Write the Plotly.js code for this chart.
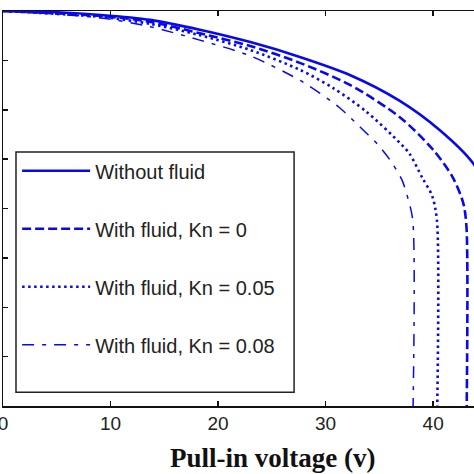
<!DOCTYPE html>
<html>
<head>
<meta charset="utf-8">
<script src="https://cdn.plot.ly/plotly-3.0.1.min.js"></script>
<style>
  html, body { margin: 0; padding: 0; background: #fff; }
  #chart { width: 474px; height: 474px; }
</style>
</head>
<body>
<div id="chart"></div>
<script>
    // pull-in voltage (v) vs. deflection
    var vNoFluid = [0, 4.4, 9.1, 13.7, 18.3, 23.0, 27.6, 32.3, 36.9, 40.6, 43.7, 45.2, 46.1, 46.4, 46.4];
    var dNoFluid = [0, -0.02, -0.08, -0.18, -0.38, -0.63, -0.93, -1.30, -1.82, -2.41, -3.08, -3.7, -4.3, -4.7, -8.5];

    var vKn0 = [0, 9.1, 13.7, 18.3, 23.0, 27.6, 32.3, 36.9, 40.0, 41.8, 42.8, 43.1, 43.1];
    var dKn0 = [0, -0.10, -0.22, -0.45, -0.71, -1.05, -1.50, -2.15, -2.81, -3.36, -3.89, -4.37, -8.5];

    var vKn005 = [0, 9.1, 13.7, 18.3, 23.0, 27.6, 30.7, 33.8, 36.9, 37.8, 39.0, 39.9, 40.35, 40.35];
    var dKn005 = [0, -0.12, -0.26, -0.49, -0.79, -1.19, -1.56, -2.04, -2.67, -2.89, -3.38, -3.74, -4.23, -8.5];

    var vKn008 = [0, 9.1, 13.7, 18.3, 23.0, 27.9, 31.3, 33.2, 34.8, 36.0, 37.1, 37.65, 38.1, 38.1];
    var dKn008 = [0, -0.14, -0.32, -0.59, -0.91, -1.44, -1.96, -2.35, -2.69, -3.02, -3.42, -3.79, -4.23, -8.5];

    var names = ['Without fluid', 'With fluid, Kn = 0', 'With fluid, Kn = 0.05', 'With fluid, Kn = 0.08'];
    var xTicks = [0, 10, 20, 30, 40];

    var blue = '#0808ee';
    var lines = [
        {x: vNoFluid, y: dNoFluid, dash: 'solid', w: 2.6},
        {x: vKn0, y: dKn0, dash: '9px,4px', w: 2.6},
        {x: vKn005, y: dKn005, dash: '2.5px,3.5px', w: 2.6},
        {x: vKn008, y: dKn008, dash: '12px,8px,4px,8px', w: 1.5}
    ];

    var data = [];
    for (let i in lines) {
        data.push({
            x: lines[i].x,
            y: lines[i].y,
            name: names[i],
            type: 'scatter',
            mode: 'lines',
            line: {color: blue, width: lines[i].w, dash: lines[i].dash, shape: 'spline', smoothing: 0.8},
            legendgroup: 'g' + i
        });
    }

    var axisFont = {family: 'Arial, Liberation Sans', size: 19, color: '#222'};

    var layout = {
        width: 474,
        height: 474,
        margin: {l: 3, r: 0, t: 11, b: 68, autoexpand: false},
        paper_bgcolor: '#fff',
        plot_bgcolor: '#fff',
        showlegend: true,
        legend: {
            x: 0.03, y: 0.645, xanchor: 'left', yanchor: 'top',
            font: {family: 'Arial, Liberation Sans', size: 20, color: '#222'},
            bgcolor: 'rgba(0,0,0,0)',
            borderwidth: 0,
            tracegroupgap: 29,
            itemwidth: 68
        },
        xaxis: {
            range: [0, 43.8],
            tickvals: xTicks,
            ticks: 'inside', ticklen: 5, tickwidth: 1.5, tickcolor: '#111',
            showline: true, linecolor: '#111', linewidth: 1.5, mirror: 'ticks',
            showgrid: false, zeroline: false,
            ticklabeloverflow: 'allow',
            tickfont: axisFont
        },
        yaxis: {
            range: [-8, 0],
            dtick: 1,
            ticks: 'inside', ticklen: 5, tickwidth: 1.5, tickcolor: '#111',
            showline: true, linecolor: '#111', linewidth: 1.5, mirror: false,
            showgrid: false, zeroline: false,
            showticklabels: false
        },
        shapes: [{
            type: 'rect', xref: 'paper', yref: 'paper', layer: 'below',
            x0: 0.0276, x1: 0.618, y0: 0.035, y1: 0.643,
            line: {color: '#222', width: 1.5}, fillcolor: '#fff'
        }],
        annotations: [{
            text: 'Pull-in voltage (v)',
            xref: 'x', yref: 'paper', x: 25.1, y: -0.1316,
            xanchor: 'center', yanchor: 'middle', showarrow: false,
            font: {family: 'Liberation Serif, Times New Roman', size: 27, weight: 'bold', color: '#111'}
        }]
    };
    var config = {responsive: false, displayModeBar: false, staticPlot: true};
    Plotly.newPlot('chart', data, layout, config);
</script>
</body>
</html>
